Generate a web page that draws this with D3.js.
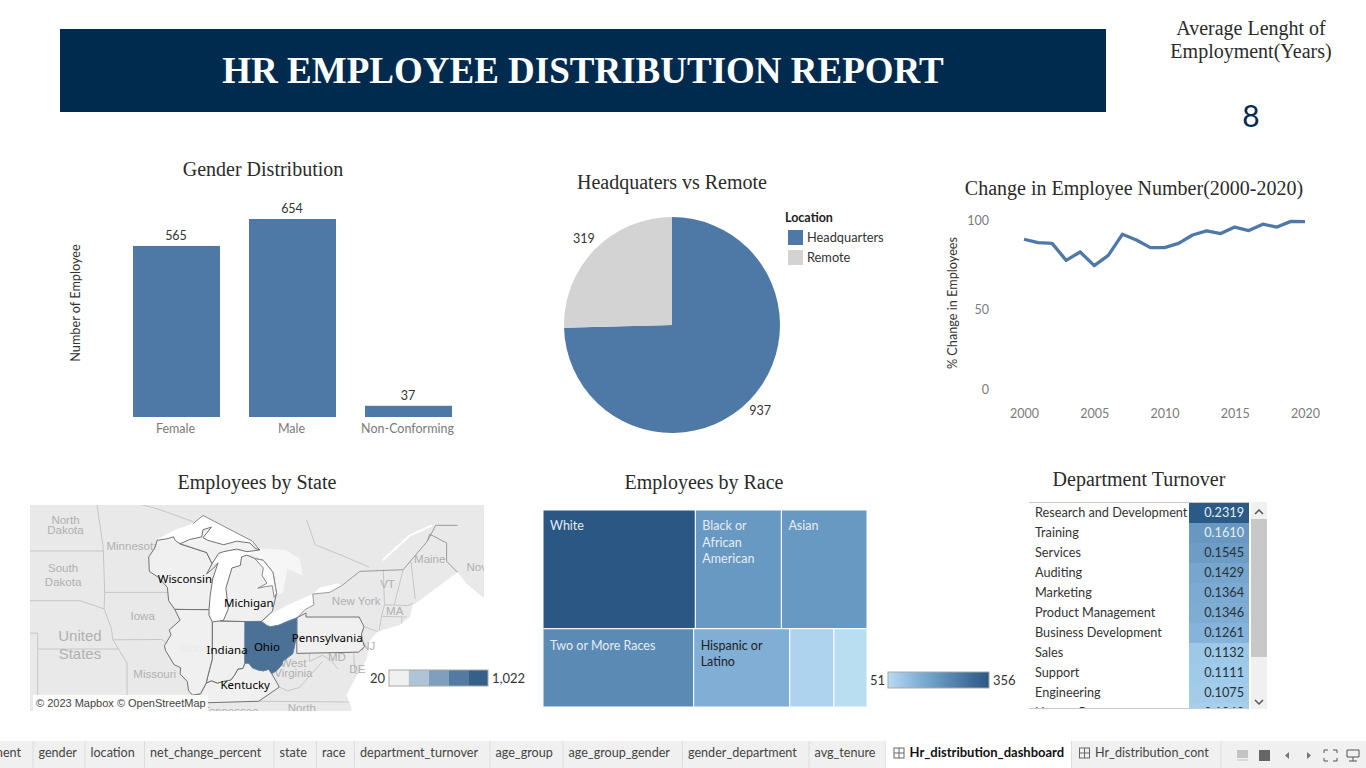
<!DOCTYPE html>
<html>
<head>
<meta charset="utf-8">
<title>HR Employee Distribution Report</title>
<script src="https://cdn.jsdelivr.net/npm/d3@7"></script>
<style>
  html, body { margin: 0; padding: 0; background: #fff; overflow: hidden; }
  svg { display: block; }
  text { font-family: Lato, "Open Sans", sans-serif; }
  .serif { font-family: "Liberation Serif", serif; fill: #2b2b2b; }
  .axis path { display: none; }
  .axis line { display: none; }
  .axis text { font-family: Lato, sans-serif; font-size: 12.5px; fill: #7b7b7b; }
</style>
</head>
<body>
<div id="root"></div>
<script>
// gender bars
const genders = ["Female", "Male", "Non-Conforming"];
const genderCounts = [565, 654, 37];

// location pie
const locations = ["Headquarters", "Remote"];
const locationCounts = [937, 319];

// employee change line
const changeYears = [2000, 2001, 2002, 2003, 2004, 2005, 2006, 2007, 2008, 2009, 2010,
  2011, 2012, 2013, 2014, 2015, 2016, 2017, 2018, 2019, 2020];
const changePercent = [89.4, 87.5, 87.1, 77.5, 82.2, 74.5, 80.3, 92.2, 89, 84.7, 84.7,
  87.1, 91.8, 94.1, 92.6, 96.3, 94.3, 97.9, 96.3, 99.5, 99.4];
const changeYearTicks = [2000, 2005, 2010, 2015, 2020];
const changeValueTicks = [0, 50, 100];

// race treemap, two rows
const raceRowTop = ["White", "Black or African American", "Asian"];
const raceRowTopCounts = [356, 201, 200];
const raceRowBottom = ["Two or More Races", "Hispanic or Latino", "American Indian or Alaska Native", "Native Hawaiian or Other Pacific Islander"];
const raceRowBottomCounts = [232, 148, 68, 51];
const raceStops = [51, 68, 148, 200, 232, 356];
const raceStopColors = ["#b9ddf1", "#aed3ee", "#80aed5", "#6899c2", "#5b8ab5", "#2a5783"];

// department table
const departments = ["Research and Development", "Training", "Services", "Auditing", "Marketing",
  "Product Management", "Business Development", "Sales", "Support", "Engineering", "Human Resources"];
const turnover = [0.2319, 0.1610, 0.1545, 0.1429, 0.1364, 0.1346, 0.1261, 0.1132, 0.1111, 0.1075, 0.1043];
const turnoverStops = [0.1043, 0.1132, 0.1261, 0.1429, 0.161, 0.2319];
const turnoverColors = ["#a6cfeb", "#9ec8e8", "#86b3d9", "#76a5cd", "#6898c1", "#2b5a87"];

// states on the map, Ohio last so it stays on top
const mapStates = ["Kentucky", "Wisconsin", "Indiana", "Michigan", "Illinois", "Pennsylvania", "Ohio"];
const mapStateCounts = [20, 37, 38, 40, 42, 57, 1022];
const stateSteps = ["#f0f0f0", "#b0c4d8", "#7f9fbf", "#527aa3", "#35608a"];

// state outlines, lon/lat
const stateRings = {
  Ohio: [[[-84.82,41.72],[-83.45,41.73],[-83.0,41.47],[-82.7,41.4],[-82.0,41.5],[-81.4,41.7],[-80.52,41.95],[-80.52,40.64],[-80.65,40.4],[-80.85,39.7],[-81.7,39.2],[-81.75,39.0],[-82.2,38.6],[-82.6,38.42],[-82.85,38.7],[-83.3,38.6],[-83.7,38.65],[-84.2,38.8],[-84.5,39.1],[-84.82,39.1]]],
  Pennsylvania: [[[-80.52,41.95],[-79.76,42.25],[-79.76,42.0],[-75.35,42.0],[-74.95,41.4],[-75.15,40.95],[-75.1,40.6],[-74.9,40.15],[-75.4,39.8],[-80.52,39.72]]],
  Illinois: [[[-87.8,42.45],[-90.64,42.47],[-90.2,41.8],[-91.1,41.2],[-90.95,40.9],[-91.5,40.2],[-91.4,39.9],[-90.7,39.0],[-90.15,38.8],[-90.2,38.4],[-89.6,37.9],[-89.5,37.3],[-89.15,37.0],[-88.5,37.1],[-88.03,37.8],[-87.9,38.25],[-87.53,39.35],[-87.53,41.7],[-87.8,42.1]]],
  Michigan: [
    [[-86.85,41.76],[-84.8,41.72],[-83.45,41.73],[-82.55,42.35],[-82.2,43.45],[-82.5,44.7],[-83.3,45.4],[-84,45.5],[-84.65,45.7],[-85.1,45.6],[-85.2,45.1],[-85.9,44.95],[-86.4,43.75],[-86.2,42.5],[-86.6,41.8]],
    [[-90.2,46.35],[-89.4,46.6],[-88.4,46.75],[-88.3,47.15],[-87.6,47.3],[-88.3,46.7],[-87.9,46.55],[-86.6,46.3],[-85.5,46.5],[-84.4,46.4],[-84,46.1],[-83.6,46],[-84.65,45.9],[-85.5,46.05],[-86.6,45.9],[-87,45.8],[-87.55,45.2],[-88,45.85]]
  ],
  Indiana: [[[-87.53,41.7],[-86.85,41.76],[-84.8,41.72],[-84.82,39.1],[-85.0,38.75],[-85.4,38.72],[-85.7,38.3],[-86.0,38.0],[-86.5,37.93],[-87.1,37.8],[-87.6,37.95],[-88.03,37.8],[-87.9,38.25],[-87.53,39.35]]],
  Wisconsin: [[[-90.2,46.35],[-88,45.85],[-87.55,45.2],[-88.0,44.6],[-87.4,44.95],[-87.05,45.25],[-87.5,44.3],[-87.7,43.3],[-87.8,42.45],[-90.64,42.47],[-91.15,43.0],[-91.25,43.8],[-92.0,44.4],[-92.75,44.75],[-92.8,45.6],[-92.3,46.1],[-92.1,46.55],[-91.2,46.65],[-90.75,46.75],[-90.6,46.55]]],
  Kentucky: [[[-89.4,36.5],[-88.07,36.5],[-83.68,36.6],[-81.97,37.54],[-82.6,38.42],[-82.85,38.7],[-83.3,38.6],[-83.7,38.65],[-84.2,38.8],[-84.5,39.1],[-84.82,39.1],[-85.0,38.75],[-85.4,38.72],[-85.7,38.3],[-86.0,38.0],[-86.5,37.93],[-87.1,37.8],[-87.6,37.95],[-88.03,37.8],[-88.5,37.1],[-89.15,37.0]]]
};

// base map water, lon/lat
const waterRings = [
  // Superior, cut off by the state line through the lake
  [[-92.1,46.6],[-90.8,47.1],[-89.1,47.5],[-88.3,47.95],[-84.2,46.5],[-84.2,46.0],[-87,46.0],[-90,46.4]],
  // Michigan
  [[-85.1,45.6],[-85.2,45.1],[-85.9,44.95],[-86.4,43.75],[-86.2,42.5],[-86.6,41.8],[-87.5,41.55],[-87.8,42.45],[-87.7,43.3],[-87.5,44.3],[-87.05,45.25],[-87.55,45.2],[-87,45.8],[-86,45.95],[-84.65,45.9],[-84.2,45.8]],
  // Erie
  [[-83.3,41.75],[-82.6,41.35],[-80.5,41.9],[-79.85,42.45],[-79.1,42.75],[-79.2,43.4],[-81.1,42.8],[-82.6,42.2]],
  // Ontario
  [[-79.2,43.4],[-77.8,43.5],[-76.8,43.9],[-77.1,44.05],[-78.6,43.8]],
  // Atlantic
  [[-64,43.2],[-65.1,43.2],[-66.4,44],[-67.2,44.7],[-70.9,42.7],[-71.15,42],[-72,41.5],[-73.8,41.1],[-74.5,40.5],[-74.7,39.4],[-75.9,37.8],[-76.4,37],[-76,36.2],[-76,35],[-64,35]]
];
// Huron reads paler than the land, with mottled white
const huronRing = [[-84.7,45.9],[-83.3,45.4],[-82.5,44.7],[-82.2,43.45],[-81.7,43.4],[-81.3,44.9],[-80.0,44.5],[-80.3,45.5],[-81.5,46],[-84.1,46.1]];
// part of the Michigan outline that runs through Huron
const saginawRing = [[-84,45.5],[-83.3,44.95],[-83.4,44.5],[-83,44.05],[-83.75,43.75],[-83.1,43.85],[-82.55,43.9],[-82.4,43.2],[-82.2,43.45],[-82.5,44.7],[-83.3,45.4]];
const riverLine = [[-73.4,45.4],[-71.2,46.8],[-69.3,47.4]];
const stateLakeLine = [[-89.1,47.5],[-88.3,47.95],[-84.2,46.5],[-83.6,46]];
const borderLines = [
  [[-97.2,49],[-96.6,46.3],[-96.56,45.9],[-96.45,43.5],[-96.5,42.5]],
  [[-104,45.94],[-96.56,45.94]],
  [[-104,43],[-98.5,43],[-96.5,42.5]],
  [[-96.45,43.5],[-91.2,43.5]],
  [[-95.77,40.58],[-91.7,40.6],[-91.4,40.4]],
  [[-96.5,42.5],[-95.9,41.3],[-95.77,40.58],[-95.3,40],[-94.6,39.1],[-94.6,36.5]],
  [[-102,40],[-95.3,40]],
  [[-102,41],[-102,37]],
  [[-104,41],[-102,41]],
  [[-94.6,36.5],[-89.4,36.5]],
  [[-83.68,36.6],[-75.9,36.55]],
  [[-81.97,37.54],[-81.3,37.3],[-80.3,37.5],[-79.3,38.4],[-78.4,39.2]],
  [[-79.48,39.72],[-79.48,39.2],[-78.4,39.6],[-77.7,39.3],[-77.1,38.7]],
  [[-75.8,39.7],[-75.7,38.45],[-75.2,38.45]],
  [[-74.95,41.4],[-73.8,41.1]],
  [[-73.35,44.85],[-73.25,42.75],[-73.5,42.05],[-73.7,41.1]],
  [[-71.7,44.85],[-72.45,42.73]],
  [[-73.25,42.75],[-71.3,42.7],[-70.9,42.85]],
  [[-73.5,42.05],[-71.4,42]],
  [[-71.8,42],[-71.85,41.4]],
  [[-71.05,45.3],[-70.7,43.1]],
  [[-95.15,49],[-94,48.65],[-92,48.3],[-89.1,47.6]],
  [[-79.7,47.7],[-79,46.3],[-76.5,45.6],[-74.5,45]]
];
// New York and Maine edges read darker than the others
const darkBorderLines = [
  [[-80.5,41.95],[-79.85,42.45],[-79.1,42.75],[-79.2,43.4],[-77.8,43.5],[-76.8,43.9],[-75.3,44.75],[-71.7,44.85],[-69.7,46.5],[-69.5,46.9],[-68.1,46.4],[-68.1,45.35],[-67.2,44.7]],
  [[-69.7,46.5],[-69,47.4],[-67.2,47.4]]
];
const baseLabels = [
  ["North", -99.7, 47.7], ["Dakota", -99.7, 47.15], ["Minnesota", -94.1, 46.2],
  ["South", -99.9, 44.95], ["Dakota", -99.9, 44.1], ["Iowa", -93.3, 42.05],
  ["United", -98.5, 40.85, 15], ["States", -98.5, 39.7, 15], ["Missouri", -92.3, 38.4],
  ["Illinois", -89, 40.05], ["New York", -75.6, 43], ["VT", -73, 44],
  ["MA", -72.4, 42.4], ["Maine", -69.5, 45.5], ["Nov", -65.6, 45],
  ["NJ", -74.6, 40.2], ["MD", -77.2, 39.5], ["DE", -75.5, 38.75],
  ["West", -80.8, 39.1], ["Virginia", -80.8, 38.45], ["North", -80.1, 36.15],
  ["Tennessee", -86, 35.95]
];
const stateLabels = [
  ["Wisconsin", -89.8, 44.3], ["Michigan", -84.5, 42.85], ["Pennsylvania", -78, 40.7],
  ["Ohio", -83, 40.15], ["Indiana", -86.3, 39.95], ["Kentucky", -84.8, 37.65]
];

// worksheet tabs
const tabNames = ["ment", "gender", "location", "net_change_percent", "state", "race", "department_turnover",
  "age_group", "age_group_gender", "gender_department", "avg_tenure", "Hr_distribution_dashboard", "Hr_distribution_cont"];

const blue = "#4e79a7", navy = "#002b4f";
const svg = d3.select("#root").append("svg").attr("width", 1366).attr("height", 768);
const defs = svg.append("defs");

const title = (t, x, y) => svg.append("text").attr("class", "serif").attr("x", x).attr("y", y)
  .attr("text-anchor", "middle").attr("font-size", 20).text(t);

// banner
svg.append("rect").attr("x", 60).attr("y", 29).attr("width", 1046).attr("height", 83).attr("fill", navy);
svg.append("text").attr("class", "serif").attr("x", 583).attr("y", 83).attr("text-anchor", "middle")
  .attr("font-size", 37).attr("font-weight", "bold").style("fill", "#fff")
  .text("HR EMPLOYEE DISTRIBUTION REPORT");

// average tenure
svg.append("text").attr("class", "serif").attr("x", 1251).attr("y", 35).attr("text-anchor", "middle").attr("font-size", 20).text("Average Lenght of");
svg.append("text").attr("class", "serif").attr("x", 1251).attr("y", 58).attr("text-anchor", "middle").attr("font-size", 20).text("Employment(Years)");
svg.append("text").attr("x", 1251).attr("y", 127).attr("text-anchor", "middle").attr("font-size", 30)
  .attr("font-weight", 400).attr("fill", navy).text("8");

// gender bars
title("Gender Distribution", 263, 176);
const genderX = d3.scaleBand().domain(genders).range([118.5, 466.5]).paddingInner(0.25).paddingOuter(0.125);
const genderY = d3.scaleLinear().domain([0, 654]).range([417, 219]);
svg.selectAll(".gbar").data(genders).enter().append("rect").attr("class", "gbar")
  .attr("x", d => genderX(d)).attr("width", genderX.bandwidth())
  .attr("y", (d, i) => genderY(genderCounts[i])).attr("height", (d, i) => 417 - genderY(genderCounts[i]))
  .attr("fill", blue);
svg.selectAll(".glabel").data(genders).enter().append("text").attr("class", "glabel")
  .attr("x", d => genderX(d) + genderX.bandwidth() / 2 - 0.5).attr("y", (d, i) => genderY(genderCounts[i]) - 6)
  .attr("text-anchor", "middle").attr("font-size", 12.5).attr("fill", "#333").text((d, i) => genderCounts[i]);
svg.append("g").attr("class", "axis").attr("transform", "translate(-1,417)")
  .call(d3.axisBottom(genderX).tickSize(0).tickPadding(7));
svg.append("text").attr("transform", "translate(80,303) rotate(-90)").attr("text-anchor", "middle")
  .attr("font-size", 12.7).attr("fill", "#333").text("Number of Employee");

// location pie
title("Headquaters vs Remote", 672, 189);
const pieData = d3.pie().sort(null)(locationCounts);
const pieG = svg.append("g").attr("transform", "translate(672,325)");
const pieArc = d3.arc().innerRadius(0).outerRadius(108);
const pieLabelArc = d3.arc().innerRadius(123).outerRadius(123);
const pieColor = d3.scaleOrdinal().domain(locations).range([blue, "#d3d3d3"]);
pieG.selectAll("path").data(pieData).enter().append("path")
  .attr("d", pieArc).attr("fill", (d, i) => pieColor(locations[i]));
pieG.selectAll("text").data(pieData).enter().append("text")
  .attr("transform", d => `translate(${pieLabelArc.centroid(d)})`).attr("dy", "0.35em")
  .attr("text-anchor", "middle").attr("font-size", 12.5).attr("fill", "#333").text(d => d.value);
svg.append("text").attr("x", 785).attr("y", 222).attr("font-size", 12.5).attr("font-weight", "bold").attr("fill", "#222").text("Location");
locations.forEach((name, i) => {
  svg.append("rect").attr("x", 788).attr("y", 230 + i * 20).attr("width", 15).attr("height", 15).attr("fill", pieColor(name));
  svg.append("text").attr("x", 807).attr("y", 242 + i * 20).attr("font-size", 12.8).attr("fill", "#333").text(name);
});

// employee change line
title("Change in Employee Number(2000-2020)", 1134, 195);
const lineX = d3.scaleLinear().domain([2000, 2020]).range([1024, 1305]);
const lineY = d3.scaleLinear().domain([0, 100]).range([397.5, 220.5]);
svg.append("path").datum(changeYears)
  .attr("fill", "none").attr("stroke", blue).attr("stroke-width", 3.3).attr("stroke-linejoin", "round")
  .attr("d", d3.line().x(d => lineX(d)).y((d, i) => lineY(changePercent[i])));
svg.append("g").attr("class", "axis").attr("transform", "translate(0,404)")
  .call(d3.axisBottom(lineX).tickValues(changeYearTicks).tickFormat(d3.format("d")).tickSize(0).tickPadding(5));
svg.append("g").attr("class", "axis").attr("transform", "translate(990,0)")
  .call(d3.axisLeft(lineY).tickValues(changeValueTicks).tickSize(0).tickPadding(1))
  // the zero label sits above the axis end, inside the pane
  .selectAll(".tick text").filter(d => d === 0).attr("y", -8);
svg.append("text").attr("transform", "translate(957,303) rotate(-90)").attr("text-anchor", "middle")
  .attr("font-size", 12.7).attr("fill", "#333").text("% Change in Employees");

// state map
title("Employees by State", 257, 489);
const projection = d3.geoMercator().scale(691).center([-82.66, 40]).translate([271, 649]);
const ringPath = ring => d3.line()(ring.map(p => projection(p))) + "Z";
const linePath = pts => d3.line()(pts.map(p => projection(p)));
defs.append("clipPath").attr("id", "map-clip").append("rect").attr("x", 30).attr("y", 505).attr("width", 454).attr("height", 206);
const mapG = svg.append("g").attr("clip-path", "url(#map-clip)");
mapG.append("rect").attr("x", 30).attr("y", 505).attr("width", 454).attr("height", 206).attr("fill", "#e9e9e9");
mapG.append("path").attr("d", ringPath(huronRing)).attr("fill", "#f6f6f6");
mapG.selectAll(".border").data(borderLines).enter().append("path").attr("class", "border")
  .attr("d", linePath).attr("fill", "none").attr("stroke", "#c2c2c2").attr("stroke-width", 0.9);
mapG.append("path").attr("d", linePath(riverLine)).attr("fill", "none").attr("stroke", "#fff").attr("stroke-width", 2);
mapG.selectAll(".water").data(waterRings).enter().append("path").attr("class", "water")
  .attr("d", ringPath).attr("fill", "#fff");
mapG.selectAll(".dark").data(darkBorderLines).enter().append("path").attr("class", "dark")
  .attr("d", linePath).attr("fill", "none").attr("stroke", "#9a9a9a").attr("stroke-width", 1);
mapG.append("path").attr("d", linePath(stateLakeLine)).attr("fill", "none").attr("stroke", "#8a8a8a").attr("stroke-width", 1);
mapG.selectAll(".base").data(baseLabels).enter().append("text").attr("class", "base")
  .attr("x", d => projection([d[1], d[2]])[0]).attr("y", d => projection([d[1], d[2]])[1])
  .attr("text-anchor", "middle").attr("dy", "0.35em")
  .attr("font-size", d => d[3] || 11.5).style("font-family", "'Liberation Sans', sans-serif")
  .attr("fill", "#b0b0b0").text(d => d[0]);
const stateColor = d3.scaleQuantize().domain([20, 1022]).range(stateSteps);
mapStates.forEach((name, i) => {
  mapG.selectAll(null).data(stateRings[name]).enter().append("path")
    .attr("d", ringPath)
    .attr("fill", stateColor(mapStateCounts[i])).attr("fill-opacity", 0.88)
    .attr("stroke", name === "Ohio" ? "#5f7d9e" : "#727272").attr("stroke-width", 1);
});
mapG.append("path").attr("d", ringPath(saginawRing)).attr("fill", "#fbfbfb").attr("stroke", "#8a8a8a");
mapG.selectAll(".slabel").data(stateLabels).enter().append("text").attr("class", "slabel")
  .attr("x", d => projection([d[1], d[2]])[0]).attr("y", d => projection([d[1], d[2]])[1])
  .attr("text-anchor", "middle").attr("dy", "0.35em").attr("font-size", 11.5)
  .style("font-family", "'Noto Sans', sans-serif").attr("fill", "#000").text(d => d[0]);
svg.append("rect").attr("x", 33).attr("y", 695).attr("width", 175).attr("height", 16).attr("fill", "#fff").attr("fill-opacity", 0.9);
svg.append("text").attr("x", 36).attr("y", 707).attr("font-size", 11).style("font-family", "'Liberation Sans', sans-serif")
  .attr("fill", "#444").text("© 2023 Mapbox © OpenStreetMap");
// stepped legend
const stepX = d3.scaleBand().domain(d3.range(stateSteps.length)).range([389, 488]);
svg.selectAll(".step").data(stateSteps).enter().append("rect").attr("class", "step")
  .attr("x", (d, i) => stepX(i)).attr("y", 670).attr("width", stepX.bandwidth()).attr("height", 16).attr("fill", d => d);
svg.append("rect").attr("x", 389).attr("y", 670).attr("width", 99).attr("height", 16).attr("fill", "none").attr("stroke", "#a8a8a0");
svg.append("text").attr("x", 385).attr("y", 683).attr("text-anchor", "end").attr("font-size", 13).attr("fill", "#333").text(d3.min(mapStateCounts));
svg.append("text").attr("x", 492).attr("y", 683).attr("font-size", 13).attr("fill", "#333").text(d3.format(",")(d3.max(mapStateCounts)));

// race treemap
title("Employees by Race", 704, 489);
const raceColor = d3.scaleLinear().domain(raceStops).range(raceStopColors);
const raceRoot = d3.hierarchy({ children: [
  { children: raceRowTop.map((name, i) => ({ name, value: raceRowTopCounts[i] })) },
  { children: raceRowBottom.map((name, i) => ({ name, value: raceRowBottomCounts[i] })) }
] }).sum(d => d.value || 0);
d3.treemap()
  .tile((node, x0, y0, x1, y1) => (node.depth === 0 ? d3.treemapSlice : d3.treemapDice)(node, x0, y0, x1, y1))
  .size([324, 197]).paddingInner(0)(raceRoot);
const raceG = svg.append("g").attr("transform", "translate(543,510)");
const raceLines = { "Black or African American": ["Black or", "African", "American"], "Hispanic or Latino": ["Hispanic or", "Latino"],
  "American Indian or Alaska Native": [], "Native Hawaiian or Other Pacific Islander": [] };
const cells = raceG.selectAll("g").data(raceRoot.leaves()).enter().append("g")
  .attr("transform", d => `translate(${d.x0},${d.y0})`);
cells.append("rect").attr("width", d => d.x1 - d.x0).attr("height", d => d.y1 - d.y0)
  .attr("fill", d => raceColor(d.value)).attr("stroke", "#fff").attr("stroke-width", 1);
cells.each(function (d) {
  const lines = raceLines[d.data.name] || [d.data.name];
  d3.select(this).selectAll("text").data(lines).enter().append("text")
    .attr("x", 7).attr("y", (l, i) => 20 + i * 16.5 + (d.y0 > 0 ? 1 : 0)).attr("font-size", 12.5)
    .attr("fill", d.data.name === "Hispanic or Latino" ? "#222" : "#e6edf4").text(l => l);
});
const raceGrad = defs.append("linearGradient").attr("id", "race-grad");
raceStops.forEach((s, i) => raceGrad.append("stop")
  .attr("offset", (s - 51) / (356 - 51)).attr("stop-color", raceStopColors[i]));
svg.append("rect").attr("x", 888).attr("y", 672).attr("width", 101).attr("height", 16)
  .attr("fill", "url(#race-grad)").attr("stroke", "#a8a8a0");
svg.append("text").attr("x", 885).attr("y", 685).attr("text-anchor", "end").attr("font-size", 13).attr("fill", "#333").text(51);
svg.append("text").attr("x", 993).attr("y", 685).attr("font-size", 13).attr("fill", "#333").text(356);

// department table
title("Department Turnover", 1139, 486);
const rowY = d3.scaleBand().domain(departments).range([503, 723]);
const turnColor = d3.scaleLinear().domain(turnoverStops).range(turnoverColors);
defs.append("clipPath").attr("id", "table-clip").append("rect").attr("x", 1029).attr("y", 503).attr("width", 220).attr("height", 205);
const tableG = svg.append("g").attr("clip-path", "url(#table-clip)");
tableG.selectAll("rect").data(departments).enter().append("rect")
  .attr("x", 1189).attr("width", 60).attr("y", d => rowY(d)).attr("height", rowY.bandwidth())
  .attr("fill", (d, i) => turnColor(turnover[i]));
tableG.selectAll(".dept").data(departments).enter().append("text").attr("class", "dept")
  .attr("x", 1035).attr("y", d => rowY(d) + 14).attr("font-size", 12.7).attr("fill", "#333").text(d => d);
tableG.selectAll(".turn").data(departments).enter().append("text").attr("class", "turn")
  .attr("x", 1244).attr("y", d => rowY(d) + 14).attr("text-anchor", "end").attr("font-size", 12.7)
  .attr("fill", (d, i) => i < 2 ? "#e6edf4" : "#263238").text((d, i) => turnover[i].toFixed(4));
svg.append("path").attr("d", "M1029,502.5H1249M1029,708.5H1249").attr("stroke", "#c8c8c8").attr("fill", "none");
// scrollbar
svg.append("rect").attr("x", 1251).attr("y", 502).attr("width", 16).attr("height", 207).attr("fill", "#f0f0f0");
svg.append("rect").attr("x", 1251).attr("y", 519).attr("width", 16).attr("height", 138).attr("fill", "#c8c8c8");
svg.append("path").attr("d", "M1255,514l4,-4l4,4M1255,700l4,4l4,-4").attr("fill", "none").attr("stroke", "#555").attr("stroke-width", 1.5);

// tab bar
const tabEdges = [-20, 33, 85, 144.5, 274, 316.5, 354.5, 490, 563, 682.5, 809, 886, 1071.5, 1221];
const activeTab = "Hr_distribution_dashboard";
svg.append("rect").attr("x", 0).attr("y", 741).attr("width", 1366).attr("height", 27).attr("fill", "#f0f0f0");
tabNames.forEach((name, i) => {
  const x0 = tabEdges[i], x1 = tabEdges[i + 1], hasIcon = name.startsWith("Hr_");
  if (name === activeTab) svg.append("rect").attr("x", x0).attr("y", 741).attr("width", x1 - x0).attr("height", 27).attr("fill", "#fff");
  svg.append("line").attr("x1", x1).attr("x2", x1).attr("y1", 741).attr("y2", 768).attr("stroke", "#dcdcdc");
  if (hasIcon) {
    const g = svg.append("g").attr("fill", "none").attr("stroke", "#666");
    g.append("rect").attr("x", x0 + 8).attr("y", 748).attr("width", 10).attr("height", 10);
    g.append("path").attr("d", `M${x0 + 13},748v10M${x0 + 8},753h10`);
  }
  svg.append("text").attr("x", i === 0 ? 21 : hasIcon ? x0 + 23.5 : x0 + 5.5).attr("y", 757)
    .attr("text-anchor", i === 0 ? "end" : "start").attr("font-size", name === activeTab ? 13 : 12.6)
    .attr("font-weight", name === activeTab ? "bold" : "normal").attr("fill", name === activeTab ? "#111" : "#444").text(name);
});
// view controls
svg.append("rect").attr("x", 1237).attr("y", 750).attr("width", 11).attr("height", 8).attr("fill", "#c4c4c4");
svg.append("rect").attr("x", 1237).attr("y", 759).attr("width", 11).attr("height", 2).attr("fill", "#d8d8d8");
svg.append("rect").attr("x", 1259).attr("y", 750).attr("width", 11).attr("height", 11).attr("fill", "#666");
svg.append("path").attr("d", "M1289,752v7l-4,-3.5zM1307,752v7l4,-3.5z").attr("fill", "#777");
svg.append("path").attr("d", "M1324,753v-3h4M1333,750h4v3M1337,758v3h-4M1328,761h-4v-3").attr("fill", "none").attr("stroke", "#555");
svg.append("path").attr("d", "M1347,750h12v7h-12zM1353,757v4M1349,761h8").attr("fill", "none").attr("stroke", "#555");
</script>
</body>
</html>
